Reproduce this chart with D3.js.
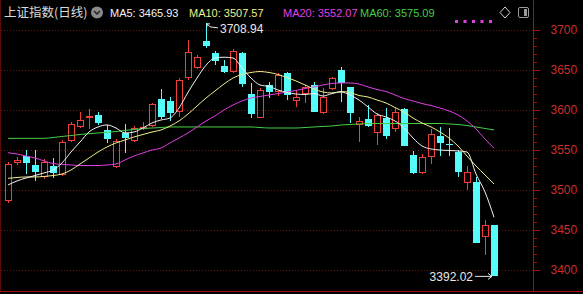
<!DOCTYPE html>
<html>
<head>
<meta charset="utf-8">
<script src="https://cdn.jsdelivr.net/npm/d3@7"></script>
<style>
  body { margin: 0; background: #000; }
  svg { display: block; }
</style>
</head>
<body>
<svg id="chart"></svg>
<script>
// daily candles, oldest first
const opens = [3486.3,3533.8,3541.9,3531.3,3516.3,3530.0,3518.8,3561.3,3578.8,3589.6,
  3593.8,3575.0,3528.8,3570.9,3561.3,3576.3,3580.0,3613.8,3611.6,3597.9,
  3640.0,3653.1,3686.6,3670.9,3655.0,3647.9,3670.9,3620.0,3590.4,3631.3,
  3622.9,3645.9,3611.6,3620.0,3631.3,3595.9,3625.9,3649.4,3629.1,3581.3,
  3588.4,3571.6,3590.0,3576.3,3600.9,3543.8,3521.3,3541.6,3567.5,3556.9,
  3547.5,3508.8,3510.0,3441.3,3456.3];
const closes = [3532.5,3538.1,3534.1,3522.5,3535.0,3521.6,3560.0,3582.5,3587.5,3591.9,
  3583.8,3563.8,3561.3,3565.4,3577.5,3578.8,3606.9,3591.3,3595.9,3637.5,
  3671.9,3666.6,3680.0,3661.6,3647.9,3674.1,3632.5,3594.6,3625.0,3622.9,
  3643.8,3618.8,3615.9,3628.8,3598.1,3616.3,3639.6,3634.1,3595.9,3585.9,
  3580.6,3593.8,3567.5,3597.5,3555.6,3520.9,3541.6,3569.4,3559.1,3556.3,
  3522.9,3523.1,3434.1,3456.3,3392.5];
const highs = [3535.0,3541.6,3550.0,3550.0,3538.8,3539.6,3562.5,3585.0,3597.5,3601.3,
  3597.5,3581.3,3563.8,3582.5,3580.0,3585.0,3608.8,3626.3,3616.6,3640.0,
  3687.5,3668.8,3708.94,3674.1,3662.5,3676.3,3672.9,3633.4,3627.5,3635.4,
  3646.3,3647.9,3625.0,3631.3,3635.0,3627.5,3641.6,3654.1,3629.1,3591.6,
  3606.3,3596.3,3602.5,3602.1,3602.5,3549.1,3545.0,3576.3,3579.1,3577.5,
  3549.4,3529.4,3516.3,3462.5,3456.3];
const lows = [3483.8,3531.3,3519.4,3511.3,3513.8,3514.6,3517.5,3560.0,3577.5,3576.3,
  3581.3,3558.8,3527.5,3546.3,3560.0,3575.0,3578.8,3588.8,3586.6,3591.6,
  3637.5,3651.3,3677.1,3656.3,3645.9,3646.3,3629.1,3590.4,3590.0,3614.6,
  3617.5,3612.5,3603.8,3608.8,3596.9,3595.0,3625.0,3610.4,3583.8,3560.4,
  3579.1,3556.3,3563.8,3572.9,3554.4,3520.0,3520.0,3532.5,3543.1,3541.9,
  3516.3,3500.0,3433.8,3418.8,3392.02];

// moving averages
const ma5 = [3506.3,3511.3,3515.0,3518.1,3521.3,3525.0,3533.8,3547.5,3560.0,3572.5,
  3578.8,3581.3,3577.5,3571.3,3572.5,3577.5,3583.8,3587.5,3590.0,3602.5,
  3622.0,3640.0,3656.0,3665.0,3666.0,3665.0,3652.5,3640.0,3631.3,3629.4,
  3625.0,3621.9,3620.0,3619.4,3620.6,3617.5,3620.6,3622.5,3618.8,3612.5,
  3603.8,3595.0,3591.3,3586.3,3577.5,3565.0,3555.0,3551.3,3550.0,3549.4,
  3548.8,3547.5,3520.0,3497.5,3465.93];
const ma10 = [3514.6,3515.6,3516.3,3516.3,3516.9,3518.1,3520.0,3525.0,3532.5,3540.0,
  3547.5,3553.8,3558.8,3562.5,3566.3,3569.4,3572.5,3575.0,3580.0,3586.3,
  3595.0,3605.0,3615.0,3623.8,3632.5,3640.0,3644.4,3646.9,3648.1,3646.9,
  3644.4,3640.6,3636.3,3631.3,3626.3,3622.5,3621.3,3623.1,3621.9,3618.1,
  3616.3,3612.5,3608.8,3603.1,3597.5,3590.0,3583.8,3578.8,3572.5,3565.0,
  3555.0,3542.5,3530.0,3518.8,3507.57];
const ma20 = [3546.6,3545.0,3542.5,3540.0,3536.3,3533.1,3531.9,3531.3,3530.6,3530.6,
  3530.6,3531.3,3532.5,3537.5,3542.5,3546.3,3550.0,3552.5,3558.8,3565.0,
  3571.3,3578.8,3586.3,3592.5,3600.0,3606.3,3611.3,3615.0,3616.9,3618.8,
  3620.6,3622.5,3624.4,3626.9,3628.8,3631.3,3633.1,3633.8,3633.8,3632.5,
  3628.8,3625.6,3623.1,3618.8,3614.4,3611.3,3608.1,3605.6,3602.5,3598.8,
  3593.8,3586.3,3576.3,3563.8,3552.07];
const ma60 = [3564.6,3564.6,3564.6,3564.6,3564.6,3565.6,3566.9,3568.1,3569.4,3570.3,
  3571.3,3572.1,3573.1,3574.4,3575.6,3576.9,3577.5,3578.1,3578.8,3578.8,
  3578.8,3578.8,3578.8,3578.8,3578.8,3578.8,3578.8,3578.8,3578.1,3577.5,
  3577.5,3577.5,3577.5,3578.1,3578.8,3579.4,3580.0,3581.3,3581.9,3582.5,
  3583.1,3583.1,3583.1,3583.1,3583.1,3583.1,3583.1,3583.1,3583.1,3582.5,
  3581.9,3580.6,3578.8,3576.9,3575.09];

const yTicks = [3400, 3450, 3500, 3550, 3600, 3650, 3700];

const maSeries = [
  { name: "MA5", values: ma5, color: "#f4f4f4" },
  { name: "MA10", values: ma10, color: "#f2ee8a" },
  { name: "MA20", values: ma20, color: "#e040e6" },
  { name: "MA60", values: ma60, color: "#44d044" }
];

const width = 583, height = 294, axisX = 533;
const upColor = "#f0403c", downColor = "#54fcfc", frameColor = "#a01010";

const svg = d3.select("#chart").attr("width", width).attr("height", height)
  .style("font-family", "'Liberation Sans', Arial, sans-serif");

svg.append("rect").attr("width", width).attr("height", height).attr("fill", "#000");

const idx = d3.range(opens.length);
const x = d3.scalePoint().domain(idx).range([8, 494]);
const y = d3.scaleLinear().domain([3400, 3700]).range([270, 30]);

// grid
svg.append("g").selectAll("line").data(yTicks).join("line")
  .attr("x1", 1).attr("x2", axisX)
  .attr("y1", d => Math.round(y(d)) + 0.5).attr("y2", d => Math.round(y(d)) + 0.5)
  .attr("stroke", "#6a1414").attr("stroke-dasharray", "1,2");

// frame
svg.append("line").attr("x1", 0.5).attr("x2", 0.5).attr("y1", 0).attr("y2", 292)
  .attr("stroke", "#5a0c0c");
svg.append("line").attr("x1", 0).attr("x2", width).attr("y1", 291.5).attr("y2", 291.5)
  .attr("stroke", frameColor);
svg.append("line").attr("x1", axisX + 0.5).attr("x2", axisX + 0.5).attr("y1", 0).attr("y2", 292)
  .attr("stroke", frameColor);

// right axis
const yAxis = d3.axisRight(y).tickValues(yTicks).tickSize(7).tickPadding(10).tickFormat(d3.format("d"));
const axisG = svg.append("g").attr("transform", `translate(${axisX + 0.5},0)`).call(yAxis);
axisG.select(".domain").remove();
axisG.selectAll(".tick line").attr("stroke", frameColor);
axisG.selectAll(".tick text").attr("fill", "#c8302c").style("font-size", "12px")
  .style("font-family", "'Liberation Sans', Arial, sans-serif");
svg.append("g").selectAll("line")
  .data(d3.range(3400, 3710, 10).filter(v => v % 50 !== 0)).join("line")
  .attr("x1", axisX).attr("x2", axisX + 4)
  .attr("y1", d => Math.round(y(d)) + 0.5).attr("y2", d => Math.round(y(d)) + 0.5)
  .attr("stroke", frameColor);

// candles
const candles = svg.append("g").selectAll("g").data(idx).join("g");
candles.each(function(i) {
  const g = d3.select(this);
  const cx = Math.round(x(i));
  const up = closes[i] > opens[i];
  const top = Math.round(y(Math.max(opens[i], closes[i])));
  const bot = Math.round(y(Math.min(opens[i], closes[i])));
  const yh = Math.round(y(highs[i])), yl = Math.round(y(lows[i]));
  if (up) {
    g.append("line").attr("x1", cx + 0.5).attr("x2", cx + 0.5).attr("y1", yh).attr("y2", top)
      .attr("stroke", upColor);
    g.append("line").attr("x1", cx + 0.5).attr("x2", cx + 0.5).attr("y1", bot).attr("y2", yl)
      .attr("stroke", upColor);
    g.append("rect").attr("x", cx - 3 + 0.5).attr("y", top + 0.5)
      .attr("width", 6).attr("height", Math.max(bot - top - 1, 1))
      .attr("fill", "none").attr("stroke", upColor);
  } else {
    g.append("line").attr("x1", cx + 0.5).attr("x2", cx + 0.5).attr("y1", yh).attr("y2", yl)
      .attr("stroke", downColor);
    g.append("rect").attr("x", cx - 3).attr("y", top)
      .attr("width", 7).attr("height", Math.max(bot - top, 1))
      .attr("fill", downColor);
  }
});

// moving average lines
const line = d3.line().x((d, i) => x(i)).y(d => y(d)).curve(d3.curveMonotoneX);
svg.append("g").selectAll("path").data(maSeries.slice().reverse()).join("path")
  .attr("d", d => line(d.values))
  .attr("fill", "none").attr("stroke", d => d.color).attr("stroke-width", 1);

// max / min labels
const iMax = d3.maxIndex(highs), iMin = d3.minIndex(lows);
const hx = x(iMax), hy = y(highs[iMax]);
svg.append("path")
  .attr("d", `M${hx + 1},${hy + 1}L${hx + 4},${hy + 4}L${hx + 12},${hy + 5}M${hx + 1},${hy + 1}l3,0M${hx + 1},${hy + 1}l0,3`)
  .attr("fill", "none").attr("stroke", "#e8e8e8");
svg.append("text").attr("x", hx + 14).attr("y", hy + 10)
  .attr("fill", "#e8e8e8").style("font-size", "12px").text(d3.format(".2f")(highs[iMax]));
const lx = x(iMin), ly = y(lows[iMin]);
svg.append("path")
  .attr("d", `M${lx - 19},${ly}L${lx - 2},${ly}M${lx - 6},${ly - 3}L${lx - 2},${ly}L${lx - 6},${ly + 3}`)
  .attr("fill", "none").attr("stroke", "#e8e8e8");
svg.append("text").attr("x", lx - 21).attr("y", ly + 5).attr("text-anchor", "end")
  .attr("fill", "#e8e8e8").style("font-size", "12px").text(d3.format(".2f")(lows[iMin]));

// header
const header = svg.append("g");
header.append("text").attr("x", 4).attr("y", 17)
  .attr("fill", "#dcdcdc").style("font-size", "12.5px")
  .style("font-family", "'Noto Sans CJK SC', sans-serif").text("上证指数(日线)");
header.append("circle").attr("cx", 97).attr("cy", 12.5).attr("r", 6).attr("fill", "#8a8a8a");
header.append("path").attr("d", "M94,11L97,14L100,11").attr("fill", "none")
  .attr("stroke", "#222").attr("stroke-width", 1.5);
const labelX = [110, 189, 283, 360];
maSeries.forEach((s, k) => {
  header.append("text").attr("x", labelX[k]).attr("y", 17)
    .attr("fill", s.color).style("font-size", "11px")
    .text(`${s.name}: ${d3.format(".2f")(s.values[s.values.length - 1])}`);
});
header.append("path").attr("d", "M505,7L510,12.5L505,18L500,12.5Z")
  .attr("fill", "none").attr("stroke", "#d8d8d8");
header.append("rect").attr("x", 518.5).attr("y", 7.5).attr("width", 10).attr("height", 10).attr("rx", 1.5)
  .attr("fill", "none").attr("stroke", "#9a9a9a");
header.append("rect").attr("x", 524).attr("y", 9).attr("width", 3).attr("height", 7).attr("fill", "#9a9a9a");
header.selectAll(".dot").data(d3.range(5)).join("rect")
  .attr("x", d => 455 + d * 8.5).attr("y", 20).attr("width", 3).attr("height", 3)
  .attr("fill", "#e040e6");
</script>
</body>
</html>
